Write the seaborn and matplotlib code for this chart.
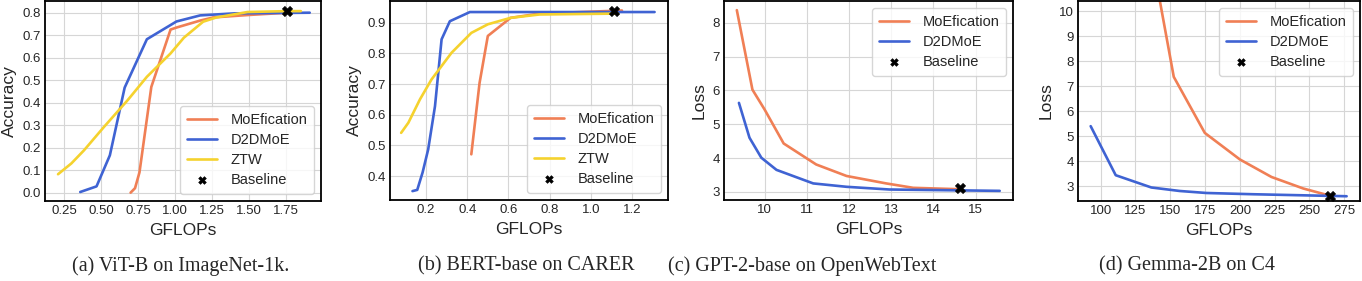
import numpy as np
import pandas as pd
import seaborn as sns
import matplotlib
matplotlib.use("Agg")
import matplotlib.pyplot as plt

# --- datos ---
# (a) ViT-B on ImageNet-1k
vit_moe_x = [0.70, 0.73, 0.76, 0.84, 0.97, 1.01, 1.17, 1.26, 1.50, 1.76]
vit_moe_y = [0.00, 0.02, 0.09, 0.47, 0.725, 0.734, 0.765, 0.779, 0.790, 0.800]
vit_d2d_x = [0.36, 0.47, 0.56, 0.66, 0.81, 1.01, 1.17, 1.40, 1.91]
vit_d2d_y = [0.003, 0.028, 0.166, 0.467, 0.682, 0.761, 0.788, 0.797, 0.800]
vit_ztw_x = [0.21, 0.30, 0.385, 0.52, 0.68, 0.81, 0.97, 1.06, 1.19, 1.28, 1.49, 1.76, 1.85]
vit_ztw_y = [0.082, 0.13, 0.188, 0.292, 0.411, 0.515, 0.619, 0.689, 0.760, 0.779, 0.803, 0.807, 0.807]
vit_base = (1.756, 0.807)

# (b) BERT-base on CARER
bert_moe_x = [0.42, 0.46, 0.50, 0.61, 0.75, 1.15]
bert_moe_y = [0.471, 0.704, 0.857, 0.916, 0.930, 0.940]
bert_d2d_x = [0.135, 0.158, 0.184, 0.211, 0.244, 0.276, 0.316, 0.413, 1.308]
bert_d2d_y = [0.351, 0.355, 0.412, 0.487, 0.628, 0.846, 0.905, 0.935, 0.935]
bert_ztw_x = [0.08, 0.115, 0.171, 0.227, 0.324, 0.42, 0.50, 0.61, 0.75, 1.13]
bert_ztw_y = [0.541, 0.574, 0.650, 0.715, 0.802, 0.867, 0.895, 0.916, 0.927, 0.930]
bert_base = (1.11, 0.938)

# (c) GPT-2-base on OpenWebText
gpt_moe_x = [9.34, 9.71, 10.0, 10.45, 11.22, 11.94, 12.88, 13.52, 14.58]
gpt_moe_y = [8.37, 6.02, 5.43, 4.43, 3.81, 3.47, 3.25, 3.12, 3.08]
gpt_d2d_x = [9.39, 9.64, 9.92, 10.28, 11.15, 11.94, 12.96, 15.57]
gpt_d2d_y = [5.63, 4.60, 4.01, 3.65, 3.25, 3.15, 3.07, 3.03]
gpt_base = (14.62, 3.10)

# (d) Gemma-2B on C4
gem_moe_x = [131, 152.5, 174.8, 200, 222.7, 245.5, 263.5]
gem_moe_y = [13.9, 7.37, 5.13, 4.07, 3.37, 2.91, 2.64]
gem_d2d_x = [92.8, 110.8, 136.4, 156.8, 176, 209.6, 276.7]
gem_d2d_y = [5.40, 3.44, 2.95, 2.81, 2.73, 2.68, 2.60]
gem_base = (264.7, 2.60)

c_moe = "#f07f55"
c_d2d = "#3f63d3"
c_ztw = "#f5d22e"

sns.set_style("whitegrid", {"axes.edgecolor": "black", "grid.color": "#d6d6d6"})
plt.rcParams["font.family"] = ["Liberation Sans", "DejaVu Sans"]

fig = plt.figure(figsize=(13.62, 2.81), dpi=100)
W, H = 1362, 281

def crear_ejes(x0, x1, y0, y1):
    return fig.add_axes([x0 / W, (H - y1) / H, (x1 - x0) / W, (y1 - y0) / H])

ejes = [crear_ejes(45, 321, 1, 201), crear_ejes(390, 668, 1, 200),
        crear_ejes(724, 1013, 1, 200), crear_ejes(1078, 1360, 1, 201)]

def dibujar(ax, series, base, ylabel, loc):
    for xs, ys, lab, col in series:
        sns.lineplot(x=xs, y=ys, ax=ax, color=col, lw=1.9, label=lab, sort=False)
    sns.scatterplot(x=[base[0]], y=[base[1]], ax=ax, marker="X", s=55, color="black",
                    edgecolor="black", linewidth=0.4, label="Baseline", zorder=5)
    ax.set_xlabel("GFLOPs", fontsize=12.5, labelpad=4)
    ax.set_ylabel(ylabel, fontsize=12.5, labelpad=4)
    ax.tick_params(labelsize=9.5, pad=3, length=0)
    for s in ax.spines.values():
        s.set_linewidth(1.3)
    leg = ax.legend(loc=loc, fontsize=10.5, frameon=True, handlelength=2.1,
                    borderpad=0.45, labelspacing=0.42, handletextpad=0.9, markerscale=0.75)
    return leg

a1, a2, a3, a4 = ejes
dibujar(a1, [(vit_moe_x, vit_moe_y, "MoEfication", c_moe),
             (vit_d2d_x, vit_d2d_y, "D2DMoE", c_d2d),
             (vit_ztw_x, vit_ztw_y, "ZTW", c_ztw)], vit_base, "Accuracy", "lower right")
a1.set_xlim(0.122, 1.986)
a1.set_ylim(-0.037, 0.852)
a1.set_xticks([0.25, 0.5, 0.75, 1.0, 1.25, 1.5, 1.75])
a1.set_yticks(np.arange(0, 0.81, 0.1))

dibujar(a2, [(bert_moe_x, bert_moe_y, "MoEfication", c_moe),
             (bert_d2d_x, bert_d2d_y, "D2DMoE", c_d2d),
             (bert_ztw_x, bert_ztw_y, "ZTW", c_ztw)], bert_base, "Accuracy", "lower right")
a2.set_xlim(0.026, 1.373)
a2.set_ylim(0.322, 0.971)
a2.set_xticks([0.2, 0.4, 0.6, 0.8, 1.0, 1.2])
a2.set_yticks([0.4, 0.5, 0.6, 0.7, 0.8, 0.9])

dibujar(a3, [(gpt_moe_x, gpt_moe_y, "MoEfication", c_moe),
             (gpt_d2d_x, gpt_d2d_y, "D2DMoE", c_d2d)], gpt_base, "Loss", "upper right")
a3.set_xlim(9.036, 15.885)
a3.set_ylim(2.76, 8.64)
a3.set_xticks([10, 11, 12, 13, 14, 15])

dibujar(a4, [(gem_moe_x, gem_moe_y, "MoEfication", c_moe),
             (gem_d2d_x, gem_d2d_y, "D2DMoE", c_d2d)], gem_base, "Loss", "upper right")
a4.set_xlim(83.7, 286.3)
a4.set_ylim(2.41, 10.4)
a4.set_xticks([100, 125, 150, 175, 200, 225, 250, 275])
a4.set_yticks(range(3, 11))

captions = ["(a) ViT-B on ImageNet-1k.", "(b) BERT-base on CARER",
            "(c) GPT-2-base on OpenWebText", "(d) Gemma-2B on C4"]
cap_x = [181, 526, 802, 1187]
for cx, txt in zip(cap_x, captions):
    fig.text(cx / W, 1 - 266 / H, txt, ha="center", va="center",
             fontsize=14.5, family="Liberation Serif")

fig.savefig("out.png", dpi=100)
